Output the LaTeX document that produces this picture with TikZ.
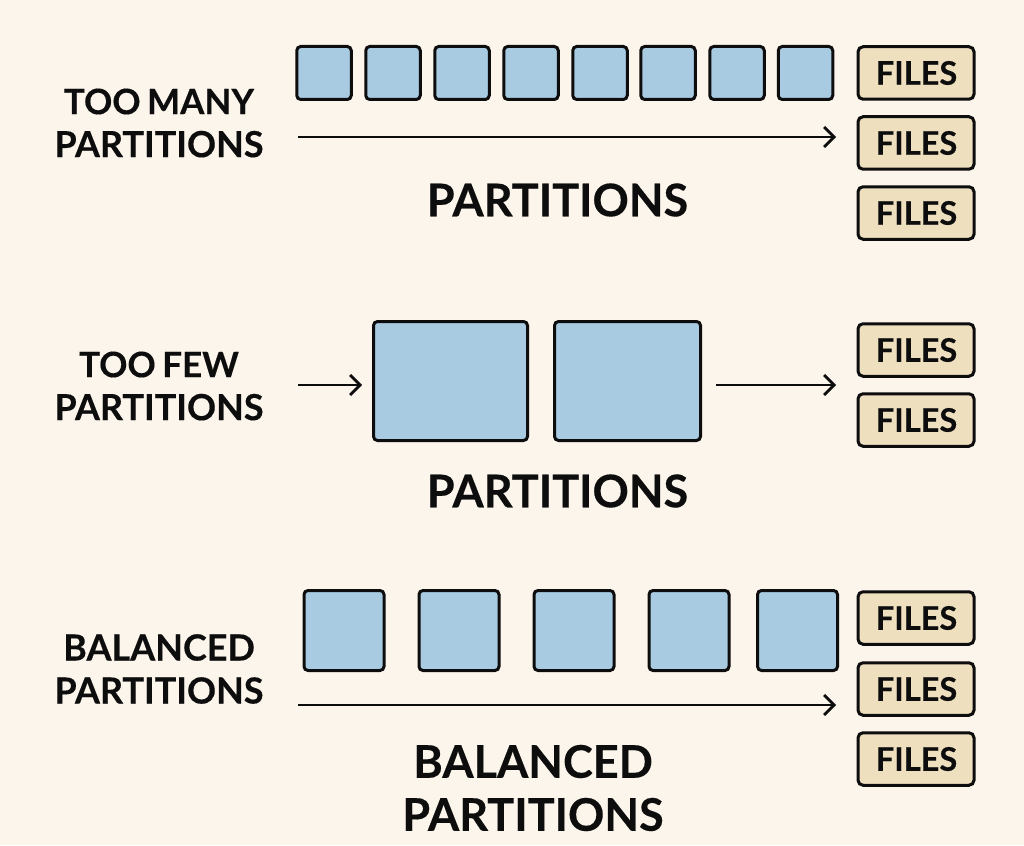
\documentclass[tikz,border=0pt]{standalone}
\usepackage{fontspec}
\setmainfont[BoldFeatures={FakeBold=0.3}]{Lato}
\usetikzlibrary{arrows.meta}
\definecolor{bgc}{HTML}{FBF5EC}
\definecolor{partc}{HTML}{A9CBE2}
\definecolor{filec}{HTML}{EEDFBF}
\definecolor{inkc}{HTML}{0D0D0D}
\newcommand{\tighter}{\fontsize{35}{43}\selectfont}
\tikzset{
 x=1pt,y=-1pt,
 partbox/.style={draw=inkc,fill=partc,line width=3pt,rounded corners=4pt,inner sep=0pt,outer sep=0pt},
 filebox/.style={draw=inkc,fill=filec,line width=3pt,rounded corners=5pt,inner sep=0pt,outer sep=0pt,minimum width=116pt,minimum height=52.5pt,text=inkc,font=\fontsize{32.5}{34}\selectfont\bfseries},
 smallpart/.style={partbox,minimum width=54.5pt,minimum height=53pt},
 midpart/.style={partbox,minimum width=80pt,minimum height=80pt},
 sidelabel/.style={align=center,text=inkc,inner sep=0pt,font=\fontsize{36}{43}\selectfont\bfseries},
 biglabel/.style={align=center,text=inkc,inner sep=0pt,font=\fontsize{45}{53}\selectfont\bfseries},
 flow/.style={draw=inkc,line width=2.6pt,-{Straight Barb[length=10pt,width=20pt,line width=2.8pt]}},
}
\begin{document}
\begin{tikzpicture}
\fill[bgc] (0,0) rectangle (1024,845);
\useasboundingbox (0,0) rectangle (1024,845);
% Too many
\node[smallpart] (a1) at (324,73) {};
\node[smallpart] (a2) at (393,73) {};
\node[smallpart] (a3) at (462,73) {};
\node[smallpart] (a4) at (531,73) {};
\node[smallpart] (a5) at (600,73) {};
\node[smallpart] (a6) at (668,73) {};
\node[smallpart] (a7) at (737,73) {};
\node[smallpart] (a8) at (805.5,73) {};
\node[filebox] (f1) at (916,73) {\hspace{1pt}FILES};
\node[filebox] (f2) at (916,143) {\hspace{1pt}FILES};
\node[filebox] (f3) at (916,213) {\hspace{1pt}FILES};
\node[sidelabel] (l1) at (159,123) {{\tighter TOO\hspace{-2pt} MANY}\\PARTITIONS};
\node[biglabel] (b1) at (557.5,200) {PARTITIONS};
\coordinate (s1) at (298,137);
\coordinate (e1) at (836,137);
\draw[flow] (s1) -- (e1);
% Too few
\node[partbox,minimum width=154pt,minimum height=119pt] (m1) at (450.5,381) {};
\node[partbox,minimum width=146pt,minimum height=119pt] (m2) at (627.5,381) {};
\node[filebox] (f4) at (916,350) {\hspace{1pt}FILES};
\node[filebox] (f5) at (916,420) {\hspace{1pt}FILES};
\node[sidelabel] (l2) at (159,386) {{\tighter TOO\hspace{-2pt} FEW}\\PARTITIONS};
\node[biglabel] (b2) at (557.5,491) {PARTITIONS};
\coordinate (s2) at (298,385);
\coordinate (e2) at (362,385);
\coordinate (s3) at (716,385);
\coordinate (e3) at (836,385);
\draw[flow] (s2) -- (e2);
\draw[flow] (s3) -- (e3);
% Balanced
\node[midpart] (c1) at (344,630.5) {};
\node[midpart] (c2) at (459,630.5) {};
\node[midpart] (c3) at (574,630.5) {};
\node[midpart] (c4) at (689,630.5) {};
\node[midpart] (c5) at (797.5,630.5) {};
\node[filebox] (f6) at (916,618) {\hspace{1pt}FILES};
\node[filebox] (f7) at (916,689) {\hspace{1pt}FILES};
\node[filebox] (f8) at (916,759) {\hspace{1pt}FILES};
\node[sidelabel] (l3) at (159,669) {BALANCED\\PARTITIONS};
\node[biglabel] (b3) at (533,788) {BALANCED\\PARTITIONS};
\coordinate (s4) at (298,705);
\coordinate (e4) at (836,705);
\draw[flow] (s4) -- (e4);
\end{tikzpicture}
\end{document}
